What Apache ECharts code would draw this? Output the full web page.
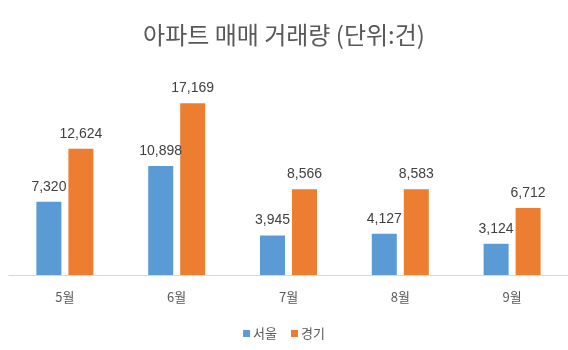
<!DOCTYPE html>
<html>
<head>
<meta charset="utf-8">
<script src="https://cdn.jsdelivr.net/npm/echarts@6/dist/echarts.min.js"></script>
<style>
  html, body { margin: 0; padding: 0; background: #fff; }
  #chart { width: 568px; height: 350px; }
</style>
</head>
<body>
<div id="chart"></div>
<script>
// Monthly apartment sales volume (unit: cases)
const months = ['5월', '6월', '7월', '8월', '9월'];
const seoul = [7320, 10898, 3945, 4127, 3124];
const gyeonggi = [12624, 17169, 8566, 8583, 6712];
const seriesNames = ['서울', '경기'];

const font = '"Liberation Sans", "Noto Sans CJK KR", sans-serif';
const krFont = '"Noto Sans CJK KR", sans-serif';

const chart = echarts.init(document.getElementById('chart'));

const labelStyle = {
  show: true,
  position: 'top',
  distance: 8,
  color: '#404040',
  fontSize: 14,
  fontFamily: font,
  formatter: p => p.value.toLocaleString('en-US')
};

chart.setOption({
  animation: false,
  backgroundColor: '#ffffff',
  title: {
    text: '아파트 매매 거래량 (단위:건)',
    left: 'center',
    top: 18,
    textStyle: { color: '#595959', fontSize: 24, fontWeight: 'normal', fontFamily: krFont }
  },
  legend: {
    data: seriesNames,
    bottom: 5,
    left: 'center',
    itemWidth: 7,
    itemHeight: 7,
    itemGap: 14,
    icon: 'rect',
    textStyle: { color: '#595959', fontSize: 13, fontFamily: krFont, padding: [0, 0, 0, -2] }
  },
  grid: { left: 9, right: -5, top: 75, bottom: 75 },
  xAxis: {
    type: 'category',
    data: months,
    axisLine: { lineStyle: { color: '#d9d9d9', width: 1 } },
    axisTick: { show: false },
    axisLabel: { color: '#595959', fontSize: 13, fontFamily: krFont, margin: 16 }
  },
  yAxis: {
    type: 'value',
    min: 0,
    max: 20000,
    show: false,
    splitLine: { show: false }
  },
  series: [
    {
      name: seriesNames[0],
      type: 'bar',
      data: seoul,
      barWidth: 25,
      barGap: '28%',
      itemStyle: { color: '#5b9bd5' },
      label: labelStyle
    },
    {
      name: seriesNames[1],
      type: 'bar',
      data: gyeonggi,
      barWidth: 25,
      barGap: '28%',
      itemStyle: { color: '#ed7d31' },
      label: labelStyle
    }
  ]
});
</script>
</body>
</html>
